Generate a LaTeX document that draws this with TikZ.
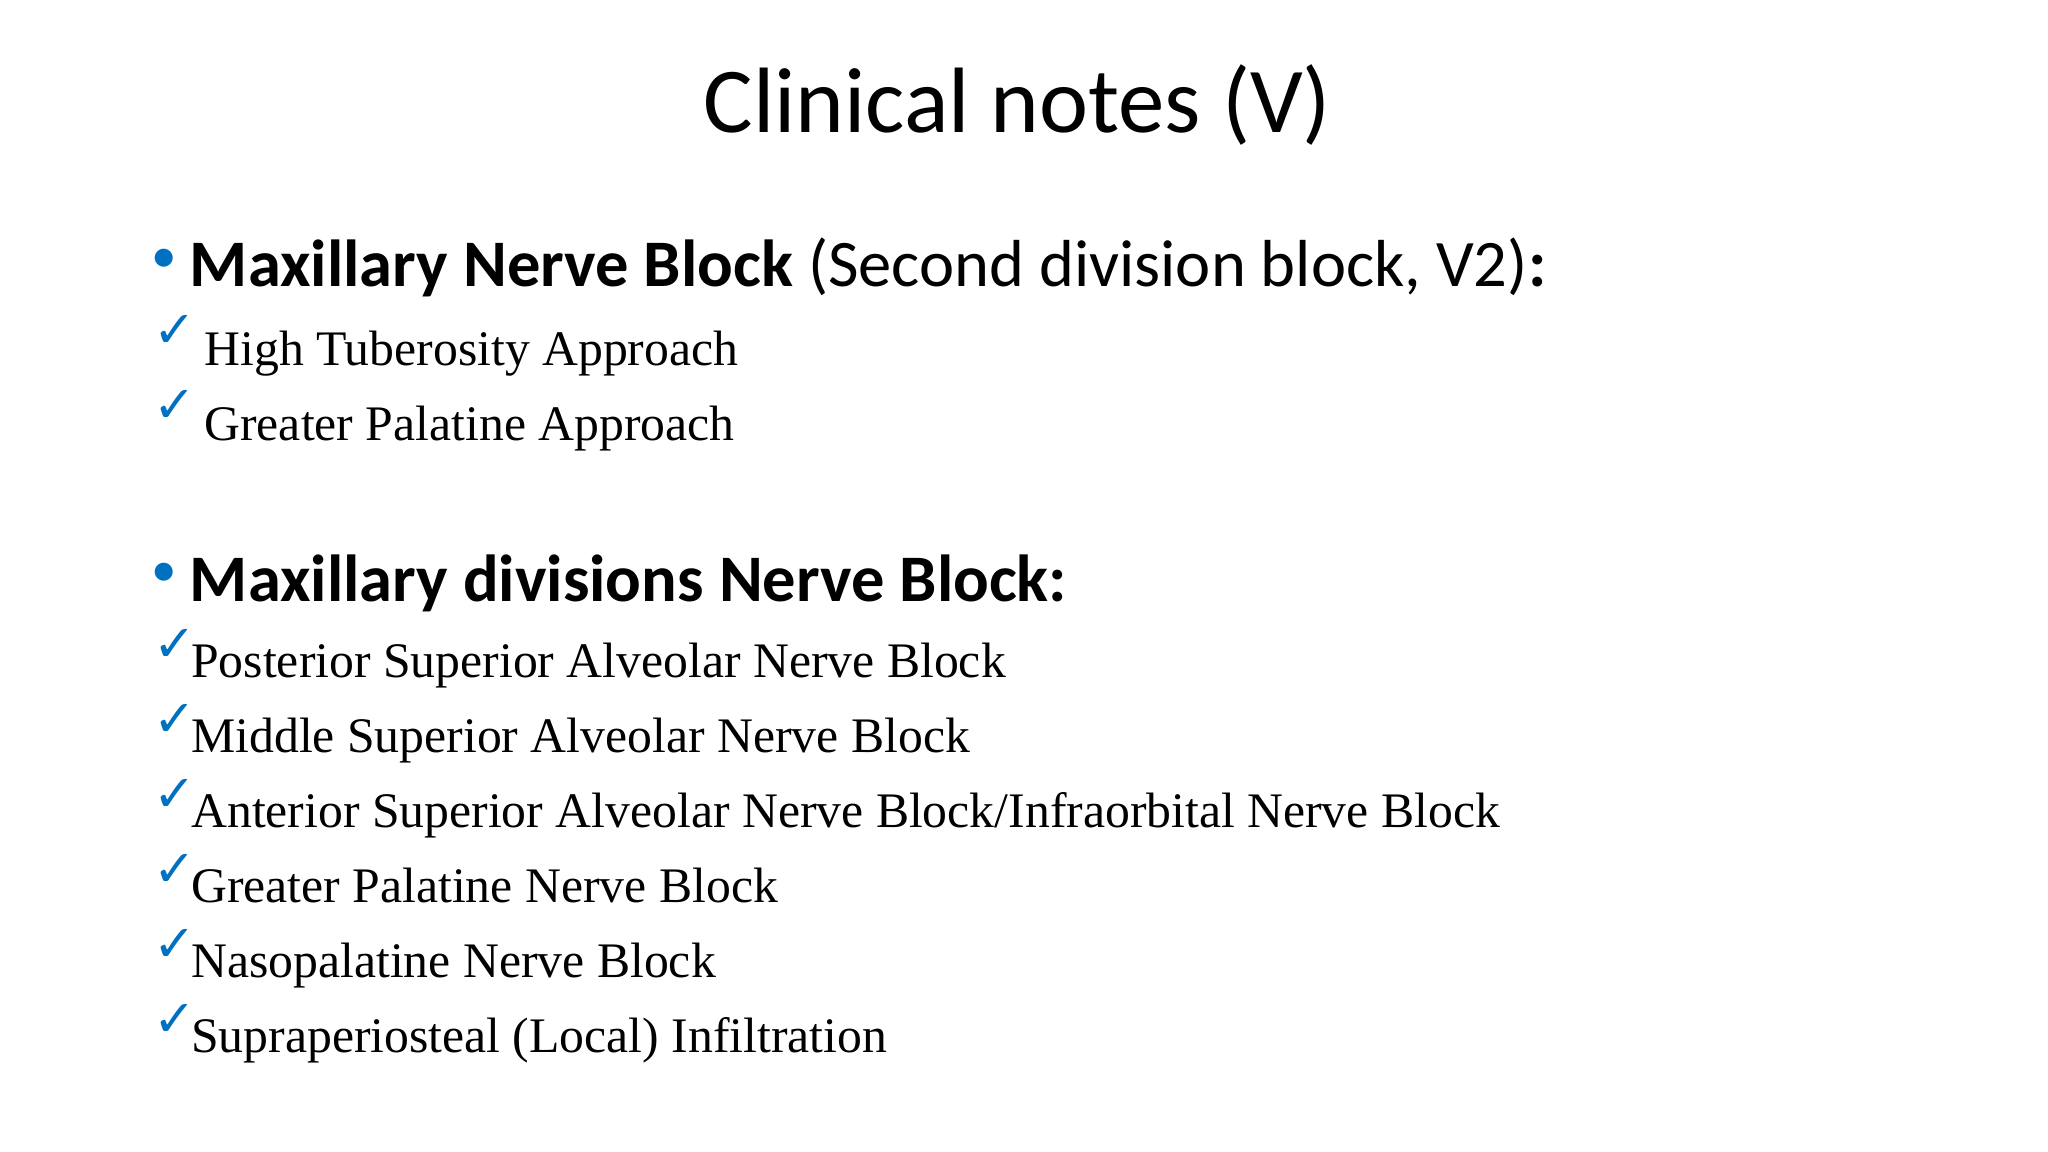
\documentclass[tikz,border=0pt]{standalone}
\usepackage{fontspec}
\setmainfont{Liberation Serif}
\newfontfamily\calfont{Carlito}
\newfontfamily\symfont{DejaVu Sans}
\definecolor{slideblue}{RGB}{0,112,192}
\tikzset{
  heading/.style={anchor=mid west, inner sep=0pt, font=\calfont\fontsize{31.3}{36}\selectfont},
  item/.style={anchor=mid west, inner sep=0pt, font=\fontsize{23.4}{28}\selectfont},
  tick/.style={anchor=mid west, inner sep=0pt, text=slideblue, font=\symfont\fontsize{24}{28}\selectfont},
  dot/.style={anchor=mid west, inner sep=0pt, text=slideblue, font=\calfont\fontsize{24}{28}\selectfont}
}
\begin{document}
\begin{tikzpicture}[x=0.02177cm, y=-0.02177cm]
    \useasboundingbox (0,0) rectangle (1556,875);
    \node[font=\calfont\fontsize{43.7}{50}\selectfont, inner sep=0pt] (title) at (773,80) {Clinical notes (V)};

    % first block
    \node[dot] (d1) at (115,203) {•};
    \node[heading] (h1) at (144,214) {\textbf{Maxillary Nerve Block} (Second division block, V2)\textbf{:}};
    \node[tick] (t1) at (116,260) {✓};
    \node[item] (i1) at (155,274) {High Tuberosity Approach};
    \node[tick] (t2) at (116,317) {✓};
    \node[item] (i2) at (155,331) {Greater Palatine Approach};

    % second block
    \node[dot] (d2) at (115,442) {•};
    \node[heading] (h2) at (144,453) {\textbf{Maxillary divisions Nerve Block:}};
    \foreach \txt [count=\k] in {Posterior Superior Alveolar Nerve Block,
        Middle Superior Alveolar Nerve Block,
        Anterior Superior Alveolar Nerve Block/Infraorbital Nerve Block,
        Greater Palatine Nerve Block,
        Nasopalatine Nerve Block,
        Supraperiosteal (Local) Infiltration}{
      \node[tick] (c\k) at (116,442+57*\k) {✓};
      \node[item] (n\k) at (145,442+57*\k+12) {\txt};
    }
\end{tikzpicture}
\end{document}
